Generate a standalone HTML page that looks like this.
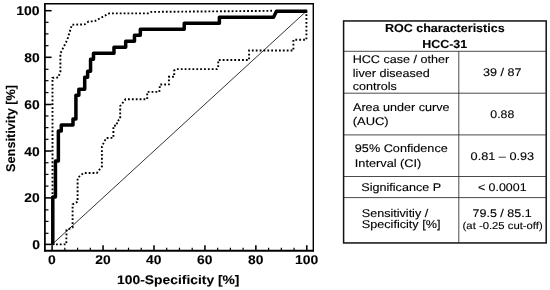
<!DOCTYPE html>
<html lang="en">
<head>
<meta charset="utf-8">
<title>ROC characteristics HCC-31</title>
<style>
html,body{margin:0;padding:0;background:#fff;}
body{width:550px;height:290px;overflow:hidden;}
svg{display:block;}
text{font-family:"Liberation Sans",Arial,Helvetica,sans-serif;fill:#000;text-rendering:geometricPrecision;stroke:#000;stroke-width:0.12px;}
text[font-weight="bold"]{stroke-width:0.1px;}
</style>
</head>
<body>
<svg width="550" height="290" viewBox="0 0 550 290">
<rect x="0" y="0" width="550" height="290" fill="#ffffff"/>
<g stroke="#000" fill="none">
<!-- plot frame -->
<line x1="44.9" y1="3.8" x2="313.3" y2="3.8" stroke-width="1.4"/>
<line x1="313.3" y1="3.0999999999999996" x2="313.3" y2="251.6" stroke-width="1.4"/>
<line x1="44.9" y1="3.0999999999999996" x2="44.9" y2="251.6" stroke-width="1.75"/>
<line x1="44.0" y1="250.7" x2="314.0" y2="250.7" stroke-width="1.9"/>
<line x1="44.9" y1="244.40" x2="51.60" y2="244.40" stroke-width="1.55"/>
<line x1="52.10" y1="250.7" x2="52.10" y2="245.30" stroke-width="1.55"/>
<line x1="44.9" y1="233.30" x2="48.50" y2="233.30" stroke-width="1.2"/>
<line x1="64.84" y1="250.7" x2="64.84" y2="247.70" stroke-width="1.2"/>
<line x1="44.9" y1="221.40" x2="48.50" y2="221.40" stroke-width="1.2"/>
<line x1="77.57" y1="250.7" x2="77.57" y2="247.70" stroke-width="1.2"/>
<line x1="44.9" y1="209.90" x2="48.50" y2="209.90" stroke-width="1.2"/>
<line x1="90.31" y1="250.7" x2="90.31" y2="247.70" stroke-width="1.2"/>
<line x1="44.9" y1="197.90" x2="51.60" y2="197.90" stroke-width="1.55"/>
<line x1="103.04" y1="250.7" x2="103.04" y2="245.30" stroke-width="1.55"/>
<line x1="44.9" y1="186.10" x2="48.50" y2="186.10" stroke-width="1.2"/>
<line x1="115.78" y1="250.7" x2="115.78" y2="247.70" stroke-width="1.2"/>
<line x1="44.9" y1="174.41" x2="48.50" y2="174.41" stroke-width="1.2"/>
<line x1="128.51" y1="250.7" x2="128.51" y2="247.70" stroke-width="1.2"/>
<line x1="44.9" y1="162.72" x2="48.50" y2="162.72" stroke-width="1.2"/>
<line x1="141.25" y1="250.7" x2="141.25" y2="247.70" stroke-width="1.2"/>
<line x1="44.9" y1="151.03" x2="51.60" y2="151.03" stroke-width="1.55"/>
<line x1="153.98" y1="250.7" x2="153.98" y2="245.30" stroke-width="1.55"/>
<line x1="44.9" y1="139.34" x2="48.50" y2="139.34" stroke-width="1.2"/>
<line x1="166.72" y1="250.7" x2="166.72" y2="247.70" stroke-width="1.2"/>
<line x1="44.9" y1="127.65" x2="48.50" y2="127.65" stroke-width="1.2"/>
<line x1="179.45" y1="250.7" x2="179.45" y2="247.70" stroke-width="1.2"/>
<line x1="44.9" y1="115.96" x2="48.50" y2="115.96" stroke-width="1.2"/>
<line x1="192.19" y1="250.7" x2="192.19" y2="247.70" stroke-width="1.2"/>
<line x1="44.9" y1="104.50" x2="51.60" y2="104.50" stroke-width="1.55"/>
<line x1="204.92" y1="250.7" x2="204.92" y2="245.30" stroke-width="1.55"/>
<line x1="44.9" y1="92.58" x2="48.50" y2="92.58" stroke-width="1.2"/>
<line x1="217.66" y1="250.7" x2="217.66" y2="247.70" stroke-width="1.2"/>
<line x1="44.9" y1="80.70" x2="48.50" y2="80.70" stroke-width="1.2"/>
<line x1="230.39" y1="250.7" x2="230.39" y2="247.70" stroke-width="1.2"/>
<line x1="44.9" y1="69.30" x2="48.50" y2="69.30" stroke-width="1.2"/>
<line x1="243.12" y1="250.7" x2="243.12" y2="247.70" stroke-width="1.2"/>
<line x1="44.9" y1="57.30" x2="51.60" y2="57.30" stroke-width="1.55"/>
<line x1="255.86" y1="250.7" x2="255.86" y2="245.30" stroke-width="1.55"/>
<line x1="44.9" y1="45.70" x2="48.50" y2="45.70" stroke-width="1.2"/>
<line x1="268.60" y1="250.7" x2="268.60" y2="247.70" stroke-width="1.2"/>
<line x1="44.9" y1="33.90" x2="48.50" y2="33.90" stroke-width="1.2"/>
<line x1="281.33" y1="250.7" x2="281.33" y2="247.70" stroke-width="1.2"/>
<line x1="44.9" y1="22.30" x2="48.50" y2="22.30" stroke-width="1.2"/>
<line x1="294.06" y1="250.7" x2="294.06" y2="247.70" stroke-width="1.2"/>
<line x1="44.9" y1="10.70" x2="51.60" y2="10.70" stroke-width="1.55"/>
<line x1="306.80" y1="250.7" x2="306.80" y2="245.30" stroke-width="1.55"/>
<!-- diagonal reference -->
<line x1="52.1" y1="244.4" x2="306.80" y2="10.80" stroke-width="0.8"/>
<!-- confidence bounds -->
<path d="M52.50,244.40 L52.50,77.90 L58.30,77.50 L60.40,71.50 L60.40,53.40 L67.40,39.50 L71.90,24.70 L84.60,24.40 L88.50,21.50 L94.50,21.30 L109.10,13.40 L148.00,13.40 L151.20,11.90 L200.00,11.50 L272.00,10.80" stroke-width="1.9" stroke-dasharray="1.8 2.07"/>
<path d="M52.10,244.40 L66.30,244.40 L66.50,230.00 L72.60,227.40 L72.60,204.40 L77.60,201.80 L77.60,178.00 L83.40,173.00 L96.80,173.00 L101.90,166.60 L101.90,146.50 L106.10,138.00 L113.40,137.80 L113.40,125.90 L117.00,125.30 L117.00,121.50 L120.20,118.90 L120.20,106.00 L125.50,99.30 L147.20,99.30 L147.20,91.90 L159.30,91.90 L160.00,84.50 L168.90,84.40 L168.90,76.80 L174.20,76.80 L174.20,70.50 L176.10,69.10 L217.00,69.10 L218.20,68.00 L218.20,60.00 L249.10,60.00 L249.10,50.50 L293.40,50.50 L293.40,39.80 L306.40,39.80 L306.40,10.80" stroke-width="1.9" stroke-dasharray="1.8 2.07"/>
<!-- ROC curve -->
<path d="M52.39,244.40 L52.39,196.48 L55.03,196.48 L55.03,160.54 L57.96,160.54 L57.96,130.59 L60.88,130.59 L60.88,124.61 L72.59,124.61 L72.59,118.62 L75.52,118.62 L75.52,94.66 L78.45,94.66 L78.45,88.67 L84.30,88.67 L84.30,76.69 L87.23,76.69 L87.23,70.70 L90.16,70.70 L90.16,58.72 L93.09,58.72 L93.09,52.73 L113.58,52.73 L113.58,46.74 L125.29,46.74 L125.29,40.75 L134.07,40.75 L134.07,34.76 L139.93,34.76 L139.93,28.77 L183.84,28.77 L183.84,22.78 L218.97,22.78 L218.97,16.79 L273.13,16.79 L276.06,10.80 L306.80,10.80" stroke-width="3.5" stroke-linejoin="round" transform="translate(0.4,0.5)"/>
<!-- table -->
<rect x="343.6" y="20.95" width="202.6" height="222.0" fill="none" stroke="#111" stroke-width="1.5"/>
<line x1="343.6" y1="51.3" x2="546.25" y2="51.3" stroke="#2a2a2a" stroke-width="0.85"/>
<line x1="343.6" y1="93.2" x2="546.25" y2="93.2" stroke="#2a2a2a" stroke-width="0.85"/>
<line x1="343.6" y1="134.9" x2="546.25" y2="134.9" stroke="#2a2a2a" stroke-width="0.85"/>
<line x1="343.6" y1="176.5" x2="546.25" y2="176.5" stroke="#2a2a2a" stroke-width="0.85"/>
<line x1="343.6" y1="197.6" x2="546.25" y2="197.6" stroke="#2a2a2a" stroke-width="0.85"/>
<line x1="458.8" y1="51.3" x2="458.8" y2="242.9" stroke="#2a2a2a" stroke-width="0.85"/>
</g>
<g>
<text x="32.15" y="248.9" font-size="12.7" font-weight="bold" textLength="7.75" lengthAdjust="spacingAndGlyphs">0</text>
<text x="24.2" y="202.4" font-size="12.7" font-weight="bold" textLength="15.4" lengthAdjust="spacingAndGlyphs">20</text>
<text x="24.2" y="155.53" font-size="12.7" font-weight="bold" textLength="15.4" lengthAdjust="spacingAndGlyphs">40</text>
<text x="24.2" y="109.0" font-size="12.7" font-weight="bold" textLength="15.4" lengthAdjust="spacingAndGlyphs">60</text>
<text x="24.2" y="61.8" font-size="12.7" font-weight="bold" textLength="15.4" lengthAdjust="spacingAndGlyphs">80</text>
<text x="16.3" y="15.2" font-size="12.7" font-weight="bold" textLength="23.3" lengthAdjust="spacingAndGlyphs">100</text>
<text x="48.08" y="264.2" font-size="12.6" font-weight="bold" textLength="7.75" lengthAdjust="spacingAndGlyphs">0</text>
<text x="95.19" y="264.2" font-size="12.6" font-weight="bold" textLength="15.4" lengthAdjust="spacingAndGlyphs">20</text>
<text x="146.13" y="264.2" font-size="12.6" font-weight="bold" textLength="15.4" lengthAdjust="spacingAndGlyphs">40</text>
<text x="197.07" y="264.2" font-size="12.6" font-weight="bold" textLength="15.4" lengthAdjust="spacingAndGlyphs">60</text>
<text x="248.01" y="264.2" font-size="12.6" font-weight="bold" textLength="15.4" lengthAdjust="spacingAndGlyphs">80</text>
<text x="295.0" y="264.2" font-size="12.6" font-weight="bold" textLength="23.3" lengthAdjust="spacingAndGlyphs">100</text>
<text x="117.1" y="283.5" font-size="12.4" font-weight="bold" textLength="122.4" lengthAdjust="spacingAndGlyphs">100-Specificity [%]</text>
<text transform="translate(14.5,128.45) rotate(-90)" x="0" y="0" font-size="12.7" font-weight="bold" text-anchor="middle" textLength="87.0" lengthAdjust="spacingAndGlyphs">Sensitivity [%]</text>
<text x="384.9" y="31.6" font-size="11.6" font-weight="bold" textLength="119.8" lengthAdjust="spacingAndGlyphs">ROC characteristics</text>
<text x="422.2" y="48.45" font-size="11.6" font-weight="bold" textLength="45" lengthAdjust="spacingAndGlyphs">HCC-31</text>
<text x="352.7" y="62.75" font-size="11.2" textLength="96.5" lengthAdjust="spacingAndGlyphs">HCC case / other</text>
<text x="352.8" y="76.5" font-size="11.2" textLength="77" lengthAdjust="spacingAndGlyphs">liver diseased</text>
<text x="352.8" y="90.2" font-size="11.2" textLength="44" lengthAdjust="spacingAndGlyphs">controls</text>
<text x="483.1" y="76.2" font-size="11.2" textLength="38.5" lengthAdjust="spacingAndGlyphs">39 / 87</text>
<text x="353" y="111.2" font-size="11.2" textLength="96.6" lengthAdjust="spacingAndGlyphs">Area under curve</text>
<text x="352.7" y="124.9" font-size="11.2" textLength="36" lengthAdjust="spacingAndGlyphs">(AUC)</text>
<text x="490.3" y="118.2" font-size="11.2" textLength="24" lengthAdjust="spacingAndGlyphs">0.88</text>
<text x="354.8" y="152.45" font-size="11.2" textLength="93" lengthAdjust="spacingAndGlyphs">95% Confidence</text>
<text x="354.8" y="166.5" font-size="11.2" textLength="66.5" lengthAdjust="spacingAndGlyphs">Interval (CI)</text>
<text x="470.6" y="159.55" font-size="11.2" textLength="63.6" lengthAdjust="spacingAndGlyphs">0.81 – 0.93</text>
<text x="361.3" y="191.2" font-size="11.2" textLength="79.8" lengthAdjust="spacingAndGlyphs">Significance P</text>
<text x="477.9" y="191.1" font-size="11.2" textLength="48.7" lengthAdjust="spacingAndGlyphs">&lt; 0.0001</text>
<text x="361.8" y="217.0" font-size="11.2" textLength="66.4" lengthAdjust="spacingAndGlyphs">Sensitivitiy /</text>
<text x="361.8" y="228.3" font-size="11.2" textLength="78.6" lengthAdjust="spacingAndGlyphs">Specificity [%]</text>
<text x="472.6" y="216.55" font-size="11.2" textLength="59" lengthAdjust="spacingAndGlyphs">79.5 / 85.1</text>
<text x="462.6" y="228.6" font-size="10.0" textLength="80.1" lengthAdjust="spacingAndGlyphs">(at -0.25 cut-off)</text>
</g>
</svg>
</body>
</html>
